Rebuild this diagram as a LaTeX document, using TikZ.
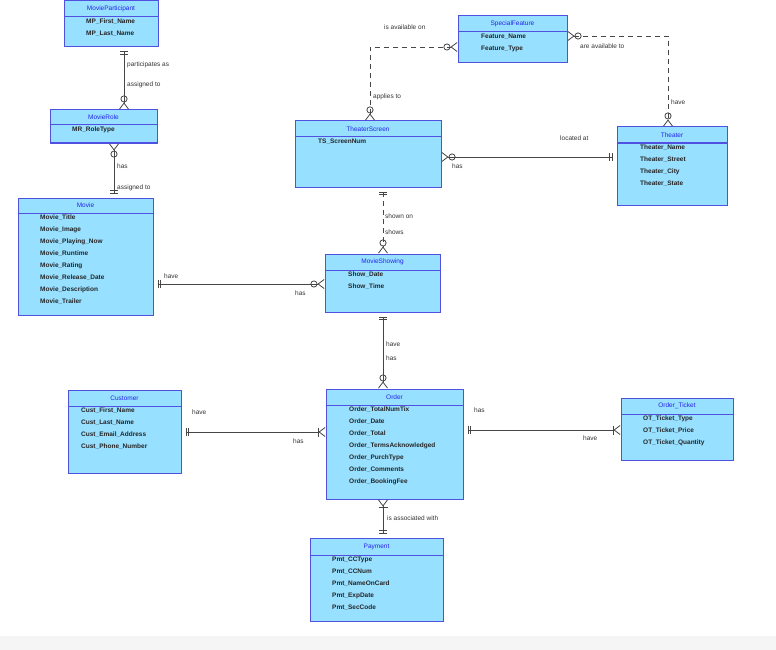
\documentclass[tikz,border=0pt]{standalone}
\usepackage{fontspec}
\setmainfont{Liberation Sans}
\usetikzlibrary{arrows.meta,calc}
\definecolor{entfill}{RGB}{152,224,255}
\definecolor{entline}{RGB}{80,80,225}
\definecolor{enttitle}{RGB}{35,35,235}
\definecolor{linkgray}{RGB}{70,70,70}

\tikzset{
  one/.tip={Bar[width=8pt,sep=2pt]Bar[width=8pt,sep=4pt]},
  zmany/.tip={Circle[open,length=7pt,width=7pt,sep=0pt]Straight Barb[reversed,length=6pt,width=9pt]},
  omany/.tip={Bar[width=9pt,sep=0pt]Straight Barb[reversed,length=6pt,width=9pt]}
}

% \entity{name}{x1}{y1}{x2}{y2}{header bottom}{title}{attr x}{attrs}
\newcommand{\entity}[9]{%
  \node[ent, minimum width={(#4-#2)*1pt}, minimum height={(#5-#3)*1pt}] (#1) at ({(#2+#4)/2},{(#3+#5)/2}) {};
  \draw[entline, line width=1pt] (#2,#6) -- (#4,#6);
  \node[title] (#1-t) at ({(#2+#4)/2},{(#3+#6)/2}) {#7};
  \node[attr] (#1-a) at (#8,#6+2) {#9};
}

\begin{document}
\begin{tikzpicture}[x=1pt, y=-1pt,
    ent/.style={draw=entline, fill=entfill, line width=1pt, inner sep=0pt},
    title/.style={font=\fontsize{6.5}{7}\selectfont, text=enttitle, inner sep=0pt},
    attr/.style={font=\bfseries\fontsize{6.5}{12}\selectfont, text=black!85, anchor=north west,
      align=left, inner sep=0pt},
    lbl/.style={font=\fontsize{6.5}{7}\selectfont, text=black!80, inner sep=0pt, anchor=west},
    link/.style={draw=linkgray, line width=0.8pt},
    dlink/.style={link, dash pattern=on 5pt off 4pt}]
  \useasboundingbox (0,0) rectangle (776,650);
  \fill[black!4] (0,636) rectangle (776,650);

  % entities
  \entity{mp}{64}{1}{158}{47}{17}{MovieParticipant}{86}{MP\_First\_Name\\MP\_Last\_Name}
  \entity{mr}{50}{110}{157}{143}{125}{MovieRole}{72}{MR\_RoleType}
  \entity{mov}{18}{198}{153}{315}{213}{Movie}{40}{Movie\_Title\\Movie\_Image\\Movie\_Playing\_Now\\Movie\_Runtime\\Movie\_Rating\\Movie\_Release\_Date\\Movie\_Description\\Movie\_Trailer}
  \entity{ts}{295}{121}{441}{187}{137}{TheaterScreen}{318}{TS\_ScreenNum}
  \entity{sf}{458}{16}{567}{63}{32}{SpecialFeature}{481}{Feature\_Name\\Feature\_Type}
  \entity{th}{617}{127}{727}{205}{143}{Theater}{640}{Theater\_Name\\Theater\_Street\\Theater\_City\\Theater\_State}
  \entity{ms}{325}{254}{440}{312}{270}{MovieShowing}{348}{Show\_Date\\Show\_Time}
  \entity{cu}{68}{390}{181}{473}{406}{Customer}{81}{Cust\_First\_Name\\Cust\_Last\_Name\\Cust\_Email\_Address\\Cust\_Phone\_Number}
  \entity{ord}{326}{389}{463}{499}{405}{Order}{349}{Order\_TotalNumTix\\Order\_Date\\Order\_Total\\Order\_TermsAcknowledged\\Order\_PurchType\\Order\_Comments\\Order\_BookingFee}
  \entity{ot}{621}{398}{733}{460}{414}{Order\_Ticket}{643}{OT\_Ticket\_Type\\OT\_Ticket\_Price\\OT\_Ticket\_Quantity}
  \entity{pay}{310}{538}{443}{621}{555}{Payment}{332}{Pmt\_CCType\\Pmt\_CCNum\\Pmt\_NameOnCard\\Pmt\_ExpDate\\Pmt\_SecCode}

  % helper coordinates for connector lines
  \coordinate (x1) at (124,0);
  \coordinate (x2) at (114,0);
  \coordinate (x3) at (383,0);
  \coordinate (x4) at (370,0);
  \coordinate (x5) at (668,0);
  \coordinate (y1) at (0,284);
  \coordinate (y2) at (0,157);
  \coordinate (y3) at (0,47);
  \coordinate (y4) at (0,36);
  \coordinate (y5) at (0,432);
  \coordinate (y6) at (0,430);
  \coordinate (k1) at (370,47);
  \coordinate (k2) at (668,36);

  % relationships
  \draw[link, {one}-{zmany}] (mp.south -| x1) -- (mr.north -| x1);
  \draw[link, {zmany}-{one}] (mr.south -| x2) -- (mov.north -| x2);
  \draw[link, {one}-{zmany}] (mov.east |- y1) -- (ms.west |- y1);
  \draw[dlink, {one}-{zmany}] (ts.south -| x3) -- (ms.north -| x3);
  \draw[link, {zmany}-{one}] (ts.east |- y2) -- (th.west |- y2);
  \draw[dlink, {zmany}-{zmany}] (ts.north -| x4) -- (k1) -- (sf.west |- y3);
  \draw[dlink, {zmany}-{zmany}] (sf.east |- y4) -- (k2) -- (th.north -| x5);
  \draw[link, {one}-{zmany}] (ms.south -| x3) -- (ord.north -| x3);
  \draw[link, {one}-{omany}] (cu.east |- y5) -- (ord.west |- y5);
  \draw[link, {one}-{omany}] (ord.east |- y6) -- (ot.west |- y6);
  \draw[link, {omany}-{one}] (ord.south -| x3) -- (pay.north -| x3);

  % relationship labels
  \node[lbl] (l1) at (127,65) {participates as};
  \node[lbl] (l2) at (127,85) {assigned to};
  \node[lbl] (l3) at (117,166) {has};
  \node[lbl] (l4) at (117,188) {assigned to};
  \node[lbl] (l5) at (164,276) {have};
  \node[lbl] (l6) at (295,293) {has};
  \node[lbl] (l7) at (385,216) {shown on};
  \node[lbl] (l8) at (385,232) {shows};
  \node[lbl] (l9) at (560,138) {located at};
  \node[lbl] (l10) at (452,166) {has};
  \node[lbl] (l11) at (384,27) {is available on};
  \node[lbl] (l12) at (373,97) {applies to};
  \node[lbl] (l13) at (580,46) {are available to};
  \node[lbl] (l14) at (671,102) {have};
  \node[lbl] (l15) at (386,344) {have};
  \node[lbl] (l16) at (386,358) {has};
  \node[lbl] (l17) at (192,412) {have};
  \node[lbl] (l18) at (293,441) {has};
  \node[lbl] (l19) at (474,410) {has};
  \node[lbl] (l20) at (583,438) {have};
  \node[lbl] (l21) at (387,518) {is associated with};
\end{tikzpicture}
\end{document}
